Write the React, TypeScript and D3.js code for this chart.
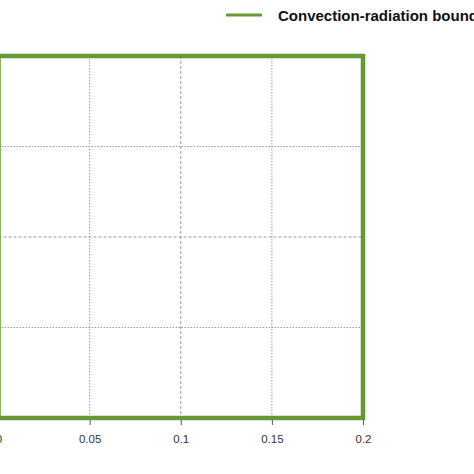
import React, { useEffect, useRef } from 'react';
import * as d3 from 'd3';

// boundary traced as a closed rectangle (x in m, y normalised)
const boundaryX = [0, 0.2, 0.2, 0, 0];
const boundaryY = [1, 1, -1, -1, 1];
const xTicks = [0, 0.05, 0.1, 0.15, 0.2];
const yTicks = [-1, -0.5, 0, 0.5, 1];
const seriesName = 'Convection-radiation boundary';

const WIDTH = 474;
const HEIGHT = 474;
const GREEN = '#669933';

const App: React.FC = () => {
  const svgRef = useRef<SVGSVGElement | null>(null);

  useEffect(() => {
    if (!svgRef.current) return;
    const svg = d3.select(svgRef.current);
    svg.selectAll('*').remove();

    const x = d3.scaleLinear().domain([0, 0.2]).range([-1.5, 363]);
    const y = d3.scaleLinear().domain([-1, 1]).range([418, 56]);

    const grid = svg.append('g');
    xTicks.slice(1, -1).forEach(t => {
      grid
        .append('line')
        .attr('x1', x(t))
        .attr('x2', x(t))
        .attr('y1', y(1))
        .attr('y2', y(-1))
        .attr('stroke', '#9a9a9a')
        .attr('stroke-width', 1)
        .attr('stroke-dasharray', t === 0.1 ? '3 2' : '1.5 1.5');
    });
    yTicks.slice(1, -1).forEach(t => {
      grid
        .append('line')
        .attr('x1', x(0))
        .attr('x2', x(0.2))
        .attr('y1', y(t))
        .attr('y2', y(t))
        .attr('stroke', '#9a9a9a')
        .attr('stroke-width', 1)
        .attr('stroke-dasharray', t === 0 ? '3 2' : '1.5 1.5');
    });

    const axis = svg.append('g').attr('transform', `translate(0,${y(-1) + 2})`);
    axis
      .call(
        d3
          .axisBottom(x)
          .tickValues(xTicks)
          .tickSize(5)
          .tickPadding(10)
          .tickFormat(d => d3.format('~g')(d as number))
      )
      .call(g => g.select('.domain').remove());
    axis.selectAll('line').attr('stroke', '#555');
    axis
      .selectAll('text')
      .attr('fill', '#333')
      .attr('font-size', 11.5)
      .attr('font-family', 'Liberation Sans, Arial, sans-serif');

    const points = boundaryX.map((v, i) => [v, boundaryY[i]] as [number, number]);
    svg
      .append('path')
      .datum(points)
      .attr('fill', 'none')
      .attr('stroke', GREEN)
      .attr('stroke-width', 4.5)
      .attr('stroke-linejoin', 'miter')
      .attr('d', d3.line<[number, number]>().x(d => x(d[0])).y(d => y(d[1])));

    const legend = svg.append('g');
    legend
      .append('line')
      .attr('x1', 226)
      .attr('x2', 262)
      .attr('y1', 15)
      .attr('y2', 15)
      .attr('stroke', GREEN)
      .attr('stroke-width', 3);
    legend
      .append('text')
      .attr('x', 278)
      .attr('y', 21)
      .attr('fill', '#111')
      .attr('font-size', 15)
      .attr('font-weight', 'bold')
      .attr('font-family', 'Liberation Sans, Arial, sans-serif')
      .text(seriesName);
  }, []);

  return (
    <svg
      ref={svgRef}
      width={WIDTH}
      height={HEIGHT}
      viewBox={`0 0 ${WIDTH} ${HEIGHT}`}
      style={{ position: 'absolute', left: 0, top: 0, background: '#fff' }}
    />
  );
};

export default App;
